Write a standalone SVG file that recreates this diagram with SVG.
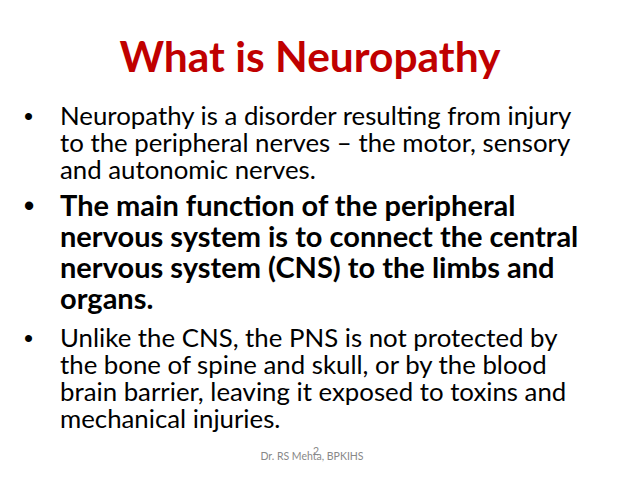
<svg xmlns="http://www.w3.org/2000/svg" width="638" height="478" viewBox="0 0 638 478">
<style>
text{font-family:Lato,"Open Sans",sans-serif;fill:#000}
.t{font-size:42.5px;font-weight:bold;fill:#C00000}
.n{font-size:25.8px}
.b{font-size:29px;font-weight:bold}
.bu{font-family:"Liberation Sans",sans-serif}
.f{font-size:10.5px;fill:#888}
</style>
<rect width="638" height="478" fill="#fff"/>
<text class="t" x="310" y="72" text-anchor="middle">What is Neuropathy</text>
<g class="n">
<text class="bu" x="24" y="125">•</text>
<text x="60" y="125">Neuropathy is a disorder resulting from injury</text>
<text x="60" y="152">to the peripheral nerves – the motor, sensory</text>
<text x="60" y="179">and autonomic nerves.</text>
</g>
<g class="b">
<text class="bu" x="24" y="216">•</text>
<text x="60" y="216">The main function of the peripheral</text>
<text x="60" y="247">nervous system is to connect the central</text>
<text x="60" y="278">nervous system (CNS) to the limbs and</text>
<text x="60" y="309">organs.</text>
</g>
<g class="n">
<text class="bu" x="24" y="347">•</text>
<text x="60" y="347">Unlike the CNS, the PNS is not protected by</text>
<text x="60" y="374">the bone of spine and skull, or by the blood</text>
<text x="60" y="401">brain barrier, leaving it exposed to toxins and</text>
<text x="60" y="428">mechanical injuries.</text>
</g>
<text class="f" x="312" y="460" text-anchor="middle">Dr. RS Mehta, BPKIHS</text>
<text class="f" x="316" y="455" text-anchor="middle">2</text>
</svg>
